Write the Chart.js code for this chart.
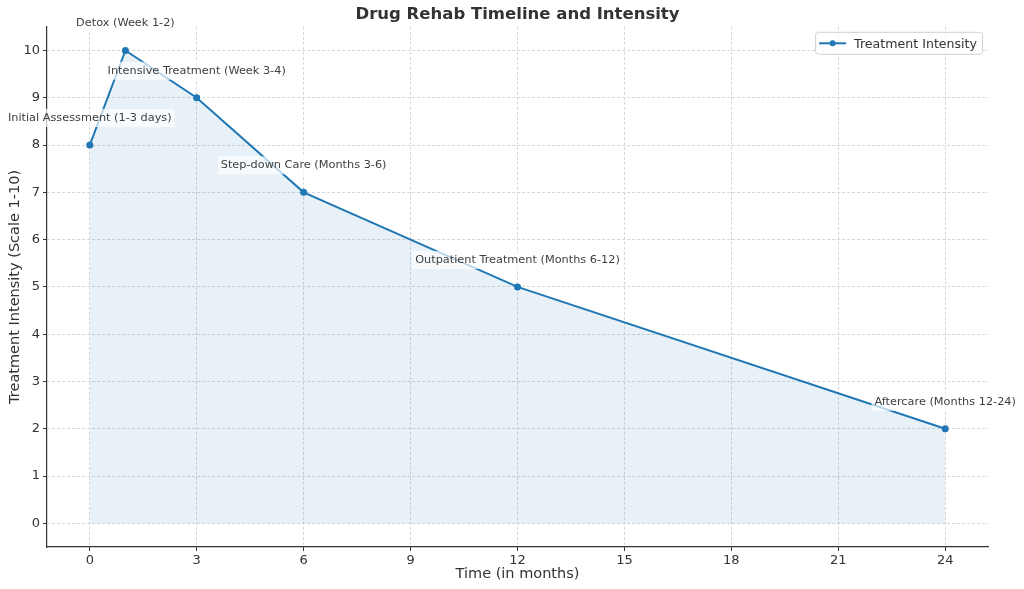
<!DOCTYPE html>
<html>
<head>
<meta charset="utf-8">
<script src="https://cdn.jsdelivr.net/npm/chart.js@4/dist/chart.umd.min.js"></script>
<style>
  html, body { margin: 0; padding: 0; background: #fff; }
  #wrap { width: 1024px; height: 589px; }
</style>
</head>
<body>
<div id="wrap"><canvas id="rehab-chart" width="1024" height="589"></canvas></div>
<script>
const months = [0, 1, 3, 6, 12, 24];
const intensity = [8, 10, 9, 7, 5, 2];
const phaseLabels = [
    "Initial Assessment (1-3 days)",
    "Detox (Week 1-2)",
    "Intensive Treatment (Week 3-4)",
    "Step-down Care (Months 3-6)",
    "Outpatient Treatment (Months 6-12)",
    "Aftercare (Months 12-24)"
];
const xTicks = [0, 3, 6, 9, 12, 15, 18, 21, 24];
const yTicks = [0, 1, 2, 3, 4, 5, 6, 7, 8, 9, 10];

const lineColor = '#1f77b4';
const textColor = '#333333';
const fontFamily = '"DejaVu Sans", sans-serif';

// phase labels above each point, with a see-through white box
const phaseLabelPlugin = {
    id: 'phaseLabels',
    afterDatasetsDraw(chart) {
        const { ctx, scales } = chart;
        ctx.save();
        ctx.font = '11.3px ' + fontFamily;
        ctx.textAlign = 'center';
        ctx.textBaseline = 'middle';
        months.forEach((m, i) => {
            const px = scales.x.getPixelForValue(m);
            const py = scales.y.getPixelForValue(intensity[i]) - 27;
            const w = ctx.measureText(phaseLabels[i]).width;
            ctx.fillStyle = 'rgba(255,255,255,0.7)';
            ctx.fillRect(px - w / 2 - 3, py - 9, w + 6, 18);
            ctx.fillStyle = '#404040';
            ctx.fillText(phaseLabels[i], px, py);
        });
        ctx.restore();
    }
};

// matplotlib style legend box in the top right
const legendBoxPlugin = {
    id: 'legendBox',
    afterDraw(chart) {
        const { ctx, chartArea } = chart;
        const label = chart.data.datasets[0].label;
        ctx.save();
        ctx.font = '12.6px ' + fontFamily;
        const textW = ctx.measureText(label).width;
        const boxW = textW + 44;
        const x0 = chartArea.right - 6 - boxW;
        const y0 = chartArea.top + 5;
        const boxH = 22;
        ctx.fillStyle = 'rgba(255,255,255,0.8)';
        ctx.strokeStyle = '#d0d0d0';
        ctx.lineWidth = 1;
        ctx.beginPath();
        ctx.roundRect(x0 + 0.5, y0 + 0.5, boxW, boxH, 3);
        ctx.fill();
        ctx.stroke();
        const cy = y0 + boxH / 2 + 0.5;
        ctx.strokeStyle = lineColor;
        ctx.lineWidth = 2;
        ctx.beginPath();
        ctx.moveTo(x0 + 4, cy);
        ctx.lineTo(x0 + 31, cy);
        ctx.stroke();
        ctx.fillStyle = lineColor;
        ctx.beginPath();
        ctx.arc(x0 + 17.5, cy, 3, 0, Math.PI * 2);
        ctx.fill();
        ctx.fillStyle = textColor;
        ctx.textBaseline = 'middle';
        ctx.fillText(label, x0 + 39, cy + 1);
        ctx.restore();
    }
};

const chartCanvas = document.getElementById('rehab-chart');

new Chart(chartCanvas, {
    type: 'line',
    data: {
        datasets: [
            {
                label: 'Treatment Intensity',
                data: months.map((m, i) => ({ x: m, y: intensity[i] })),
                borderColor: lineColor,
                backgroundColor: 'rgba(31,119,180,0.1)',
                borderWidth: 2,
                pointRadius: 3.5,
                pointBackgroundColor: lineColor,
                pointBorderWidth: 0,
                fill: 'origin',
                tension: 0
            }
        ]
    },
    options: {
        responsive: false,
        animation: false,
        layout: { padding: { left: 7, right: 36, top: 2, bottom: 6 } },
        plugins: {
            legend: { display: false },
            tooltip: { enabled: false },
            title: {
                display: true,
                text: 'Drug Rehab Timeline and Intensity',
                fullSize: false,
                color: textColor,
                font: { family: fontFamily, size: 16.5, weight: 'bold' },
                padding: { top: 3, bottom: 2 }
            }
        },
        scales: {
            x: {
                type: 'linear',
                min: -1.2,
                max: 25.2,
                afterBuildTicks: (scale) => { scale.ticks = xTicks.map(v => ({ value: v })); },
                afterFit: (scale) => { scale.height = 36; },
                ticks: {
                    color: textColor,
                    font: { family: fontFamily, size: 13 },
                    padding: 2,
                    maxRotation: 0
                },
                grid: {
                    color: '#d6d6d6',
                    tickBorderDash: [],
                    tickColor: '#333',
                    tickLength: 4
                },
                border: { display: true, color: '#333', width: 1.2, dash: [3, 2] },
                title: {
                    display: true,
                    text: 'Time (in months)',
                    color: textColor,
                    font: { family: fontFamily, size: 14.5 },
                    padding: { top: 2, bottom: 0 }
                }
            },
            y: {
                type: 'linear',
                min: -0.5,
                max: 10.5,
                afterBuildTicks: (scale) => { scale.ticks = yTicks.map(v => ({ value: v })); },
                afterFit: (scale) => { scale.width = 40; },
                ticks: {
                    color: textColor,
                    font: { family: fontFamily, size: 13 },
                    padding: 3
                },
                grid: {
                    color: '#d6d6d6',
                    tickBorderDash: [],
                    tickColor: '#333',
                    tickLength: 4
                },
                border: { display: true, color: '#333', width: 1.2, dash: [3, 2] },
                title: {
                    display: true,
                    text: 'Treatment Intensity (Scale 1-10)',
                    color: textColor,
                    font: { family: fontFamily, size: 14.5 },
                    padding: { top: 0, bottom: 2 }
                }
            }
        }
    },
    plugins: [phaseLabelPlugin, legendBoxPlugin]
});
</script>
</body>
</html>
